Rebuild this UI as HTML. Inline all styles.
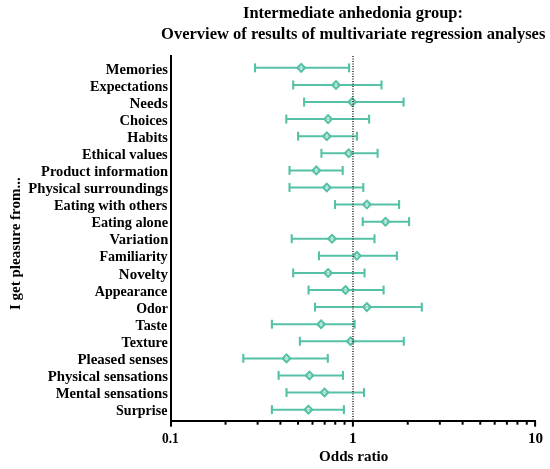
<!DOCTYPE html>
<html><head><meta charset="utf-8"><style>
html,body{margin:0;padding:0;background:#fff;}
body{width:550px;height:469px;position:relative;overflow:hidden;font-family:"Liberation Serif",serif;font-weight:bold;color:#000;}
.t{position:absolute;white-space:nowrap;line-height:20px;}
.t,.title,.lab{filter:grayscale(1);}
.title{position:absolute;left:0;width:706px;text-align:center;font-size:16px;line-height:20px;white-space:nowrap;}
.lab{position:absolute;right:382.2px;font-size:14px;line-height:20px;height:20px;white-space:nowrap;transform:scaleX(1.035);transform-origin:right center;}
svg{position:absolute;left:0;top:0;}
</style></head><body>
<div class="title" style="top:2.5px"><span style="display:inline-block;transform:scaleX(1.028)">Intermediate anhedonia group:</span></div>
<div class="title" style="top:24.3px"><span style="display:inline-block;transform:scaleX(1.032)">Overview of results of multivariate regression analyses</span></div>
<div class="lab" style="top:59.50px;transform:scaleX(1.037)">Memories</div><div class="lab" style="top:76.59px;transform:scaleX(1.0114)">Expectations</div><div class="lab" style="top:93.68px;transform:scaleX(1.0717)">Needs</div><div class="lab" style="top:110.77px;transform:scaleX(1.0332)">Choices</div><div class="lab" style="top:127.86px;transform:scaleX(1.0173)">Habits</div><div class="lab" style="top:144.95px;transform:scaleX(1.0253)">Ethical values</div><div class="lab" style="top:162.04px;transform:scaleX(1.0318)">Product information</div><div class="lab" style="top:179.13px;transform:scaleX(1.0509)">Physical surroundings</div><div class="lab" style="top:196.22px;transform:scaleX(1.0278)">Eating with others</div><div class="lab" style="top:213.31px;transform:scaleX(1.0215)">Eating alone</div><div class="lab" style="top:230.40px;transform:scaleX(1.0422)">Variation</div><div class="lab" style="top:247.49px;transform:scaleX(1.0083)">Familiarity</div><div class="lab" style="top:264.58px;transform:scaleX(1.0685)">Novelty</div><div class="lab" style="top:281.67px;transform:scaleX(1.0031)">Appearance</div><div class="lab" style="top:298.76px;transform:scaleX(0.9914)">Odor</div><div class="lab" style="top:315.85px;transform:scaleX(1.016)">Taste</div><div class="lab" style="top:332.94px;transform:scaleX(1.0086)">Texture</div><div class="lab" style="top:350.03px;transform:scaleX(1.0649)">Pleased senses</div><div class="lab" style="top:367.12px;transform:scaleX(1.0555)">Physical sensations</div><div class="lab" style="top:384.21px;transform:scaleX(1.0502)">Mental sensations</div><div class="lab" style="top:401.30px;transform:scaleX(0.9981)">Surprise</div>
<div class="t" style="left:6px;top:309.6px;font-size:14px;transform-origin:0 0;transform:rotate(-90deg) scaleX(1.071);">I get pleasure from...</div>
<div class="t" style="left:161.8px;top:429px;font-size:14px;transform:scaleX(0.96);transform-origin:0 0;">0.1</div>
<div class="t" style="left:349px;top:429px;font-size:14px;transform:scaleX(1.1);transform-origin:0 0;">1</div>
<div class="t" style="left:527.8px;top:429px;font-size:14px;transform:scaleX(1.08);transform-origin:0 0;">10</div>
<div class="t" style="left:318.8px;top:446.5px;font-size:14px;transform:scaleX(1.08);transform-origin:0 0;">Odds ratio</div>
<svg width="550" height="469" viewBox="0 0 550 469">
<line x1="255" y1="67.85" x2="349.1" y2="67.85" stroke="#55C1A6" stroke-width="2"/><line x1="255" y1="63.40" x2="255" y2="72.30" stroke="#55C1A6" stroke-width="2.1"/><line x1="349.1" y1="63.40" x2="349.1" y2="72.30" stroke="#55C1A6" stroke-width="2.1"/><path d="M297.40 67.85L301.20 64.05L305.00 67.85L301.20 71.65Z" fill="#ffffff" fill-opacity="0.45" stroke="#55C1A6" stroke-width="2.1"/><line x1="293.2" y1="84.94" x2="381.5" y2="84.94" stroke="#55C1A6" stroke-width="2"/><line x1="293.2" y1="80.49" x2="293.2" y2="89.39" stroke="#55C1A6" stroke-width="2.1"/><line x1="381.5" y1="80.49" x2="381.5" y2="89.39" stroke="#55C1A6" stroke-width="2.1"/><path d="M332.20 84.94L336.00 81.14L339.80 84.94L336.00 88.74Z" fill="#ffffff" fill-opacity="0.45" stroke="#55C1A6" stroke-width="2.1"/><line x1="304.1" y1="102.03" x2="403.6" y2="102.03" stroke="#55C1A6" stroke-width="2"/><line x1="304.1" y1="97.58" x2="304.1" y2="106.48" stroke="#55C1A6" stroke-width="2.1"/><line x1="403.6" y1="97.58" x2="403.6" y2="106.48" stroke="#55C1A6" stroke-width="2.1"/><path d="M348.40 102.03L352.20 98.23L356.00 102.03L352.20 105.83Z" fill="#ffffff" fill-opacity="0.45" stroke="#55C1A6" stroke-width="2.1"/><line x1="286.3" y1="119.12" x2="369.1" y2="119.12" stroke="#55C1A6" stroke-width="2"/><line x1="286.3" y1="114.67" x2="286.3" y2="123.57" stroke="#55C1A6" stroke-width="2.1"/><line x1="369.1" y1="114.67" x2="369.1" y2="123.57" stroke="#55C1A6" stroke-width="2.1"/><path d="M324.30 119.12L328.10 115.32L331.90 119.12L328.10 122.92Z" fill="#ffffff" fill-opacity="0.45" stroke="#55C1A6" stroke-width="2.1"/><line x1="298.1" y1="136.21" x2="356.9" y2="136.21" stroke="#55C1A6" stroke-width="2"/><line x1="298.1" y1="131.76" x2="298.1" y2="140.66" stroke="#55C1A6" stroke-width="2.1"/><line x1="356.9" y1="131.76" x2="356.9" y2="140.66" stroke="#55C1A6" stroke-width="2.1"/><path d="M323.00 136.21L326.80 132.41L330.60 136.21L326.80 140.01Z" fill="#ffffff" fill-opacity="0.45" stroke="#55C1A6" stroke-width="2.1"/><line x1="321.4" y1="153.30" x2="377.6" y2="153.30" stroke="#55C1A6" stroke-width="2"/><line x1="321.4" y1="148.85" x2="321.4" y2="157.75" stroke="#55C1A6" stroke-width="2.1"/><line x1="377.6" y1="148.85" x2="377.6" y2="157.75" stroke="#55C1A6" stroke-width="2.1"/><path d="M344.90 153.30L348.70 149.50L352.50 153.30L348.70 157.10Z" fill="#ffffff" fill-opacity="0.45" stroke="#55C1A6" stroke-width="2.1"/><line x1="289.5" y1="170.39" x2="342.7" y2="170.39" stroke="#55C1A6" stroke-width="2"/><line x1="289.5" y1="165.94" x2="289.5" y2="174.84" stroke="#55C1A6" stroke-width="2.1"/><line x1="342.7" y1="165.94" x2="342.7" y2="174.84" stroke="#55C1A6" stroke-width="2.1"/><path d="M312.50 170.39L316.30 166.59L320.10 170.39L316.30 174.19Z" fill="#ffffff" fill-opacity="0.45" stroke="#55C1A6" stroke-width="2.1"/><line x1="289.5" y1="187.48" x2="363.3" y2="187.48" stroke="#55C1A6" stroke-width="2"/><line x1="289.5" y1="183.03" x2="289.5" y2="191.93" stroke="#55C1A6" stroke-width="2.1"/><line x1="363.3" y1="183.03" x2="363.3" y2="191.93" stroke="#55C1A6" stroke-width="2.1"/><path d="M323.00 187.48L326.80 183.68L330.60 187.48L326.80 191.28Z" fill="#ffffff" fill-opacity="0.45" stroke="#55C1A6" stroke-width="2.1"/><line x1="335" y1="204.57" x2="399.1" y2="204.57" stroke="#55C1A6" stroke-width="2"/><line x1="335" y1="200.12" x2="335" y2="209.02" stroke="#55C1A6" stroke-width="2.1"/><line x1="399.1" y1="200.12" x2="399.1" y2="209.02" stroke="#55C1A6" stroke-width="2.1"/><path d="M363.10 204.57L366.90 200.77L370.70 204.57L366.90 208.37Z" fill="#ffffff" fill-opacity="0.45" stroke="#55C1A6" stroke-width="2.1"/><line x1="362.7" y1="221.66" x2="409.1" y2="221.66" stroke="#55C1A6" stroke-width="2"/><line x1="362.7" y1="217.21" x2="362.7" y2="226.11" stroke="#55C1A6" stroke-width="2.1"/><line x1="409.1" y1="217.21" x2="409.1" y2="226.11" stroke="#55C1A6" stroke-width="2.1"/><path d="M381.70 221.66L385.50 217.86L389.30 221.66L385.50 225.46Z" fill="#ffffff" fill-opacity="0.45" stroke="#55C1A6" stroke-width="2.1"/><line x1="291.7" y1="238.75" x2="374.5" y2="238.75" stroke="#55C1A6" stroke-width="2"/><line x1="291.7" y1="234.30" x2="291.7" y2="243.20" stroke="#55C1A6" stroke-width="2.1"/><line x1="374.5" y1="234.30" x2="374.5" y2="243.20" stroke="#55C1A6" stroke-width="2.1"/><path d="M328.20 238.75L332.00 234.95L335.80 238.75L332.00 242.55Z" fill="#ffffff" fill-opacity="0.45" stroke="#55C1A6" stroke-width="2.1"/><line x1="319" y1="255.84" x2="396.9" y2="255.84" stroke="#55C1A6" stroke-width="2"/><line x1="319" y1="251.39" x2="319" y2="260.29" stroke="#55C1A6" stroke-width="2.1"/><line x1="396.9" y1="251.39" x2="396.9" y2="260.29" stroke="#55C1A6" stroke-width="2.1"/><path d="M353.10 255.84L356.90 252.04L360.70 255.84L356.90 259.64Z" fill="#ffffff" fill-opacity="0.45" stroke="#55C1A6" stroke-width="2.1"/><line x1="293.2" y1="272.93" x2="364.5" y2="272.93" stroke="#55C1A6" stroke-width="2"/><line x1="293.2" y1="268.48" x2="293.2" y2="277.38" stroke="#55C1A6" stroke-width="2.1"/><line x1="364.5" y1="268.48" x2="364.5" y2="277.38" stroke="#55C1A6" stroke-width="2.1"/><path d="M324.30 272.93L328.10 269.13L331.90 272.93L328.10 276.73Z" fill="#ffffff" fill-opacity="0.45" stroke="#55C1A6" stroke-width="2.1"/><line x1="308.6" y1="290.02" x2="383.6" y2="290.02" stroke="#55C1A6" stroke-width="2"/><line x1="308.6" y1="285.57" x2="308.6" y2="294.47" stroke="#55C1A6" stroke-width="2.1"/><line x1="383.6" y1="285.57" x2="383.6" y2="294.47" stroke="#55C1A6" stroke-width="2.1"/><path d="M341.70 290.02L345.50 286.22L349.30 290.02L345.50 293.82Z" fill="#ffffff" fill-opacity="0.45" stroke="#55C1A6" stroke-width="2.1"/><line x1="315" y1="307.11" x2="421.8" y2="307.11" stroke="#55C1A6" stroke-width="2"/><line x1="315" y1="302.66" x2="315" y2="311.56" stroke="#55C1A6" stroke-width="2.1"/><line x1="421.8" y1="302.66" x2="421.8" y2="311.56" stroke="#55C1A6" stroke-width="2.1"/><path d="M363.10 307.11L366.90 303.31L370.70 307.11L366.90 310.91Z" fill="#ffffff" fill-opacity="0.45" stroke="#55C1A6" stroke-width="2.1"/><line x1="271.9" y1="324.20" x2="354.6" y2="324.20" stroke="#55C1A6" stroke-width="2"/><line x1="271.9" y1="319.75" x2="271.9" y2="328.65" stroke="#55C1A6" stroke-width="2.1"/><line x1="354.6" y1="319.75" x2="354.6" y2="328.65" stroke="#55C1A6" stroke-width="2.1"/><path d="M317.30 324.20L321.10 320.40L324.90 324.20L321.10 328.00Z" fill="#ffffff" fill-opacity="0.45" stroke="#55C1A6" stroke-width="2.1"/><line x1="299.9" y1="341.29" x2="403.8" y2="341.29" stroke="#55C1A6" stroke-width="2"/><line x1="299.9" y1="336.84" x2="299.9" y2="345.74" stroke="#55C1A6" stroke-width="2.1"/><line x1="403.8" y1="336.84" x2="403.8" y2="345.74" stroke="#55C1A6" stroke-width="2.1"/><path d="M346.80 341.29L350.60 337.49L354.40 341.29L350.60 345.09Z" fill="#ffffff" fill-opacity="0.45" stroke="#55C1A6" stroke-width="2.1"/><line x1="243.3" y1="358.38" x2="327.8" y2="358.38" stroke="#55C1A6" stroke-width="2"/><line x1="243.3" y1="353.93" x2="243.3" y2="362.83" stroke="#55C1A6" stroke-width="2.1"/><line x1="327.8" y1="353.93" x2="327.8" y2="362.83" stroke="#55C1A6" stroke-width="2.1"/><path d="M282.70 358.38L286.50 354.58L290.30 358.38L286.50 362.18Z" fill="#ffffff" fill-opacity="0.45" stroke="#55C1A6" stroke-width="2.1"/><line x1="278.6" y1="375.47" x2="343" y2="375.47" stroke="#55C1A6" stroke-width="2"/><line x1="278.6" y1="371.02" x2="278.6" y2="379.92" stroke="#55C1A6" stroke-width="2.1"/><line x1="343" y1="371.02" x2="343" y2="379.92" stroke="#55C1A6" stroke-width="2.1"/><path d="M305.70 375.47L309.50 371.67L313.30 375.47L309.50 379.27Z" fill="#ffffff" fill-opacity="0.45" stroke="#55C1A6" stroke-width="2.1"/><line x1="286.5" y1="392.56" x2="364" y2="392.56" stroke="#55C1A6" stroke-width="2"/><line x1="286.5" y1="388.11" x2="286.5" y2="397.01" stroke="#55C1A6" stroke-width="2.1"/><line x1="364" y1="388.11" x2="364" y2="397.01" stroke="#55C1A6" stroke-width="2.1"/><path d="M320.70 392.56L324.50 388.76L328.30 392.56L324.50 396.36Z" fill="#ffffff" fill-opacity="0.45" stroke="#55C1A6" stroke-width="2.1"/><line x1="271.9" y1="409.65" x2="343.9" y2="409.65" stroke="#55C1A6" stroke-width="2"/><line x1="271.9" y1="405.20" x2="271.9" y2="414.10" stroke="#55C1A6" stroke-width="2.1"/><line x1="343.9" y1="405.20" x2="343.9" y2="414.10" stroke="#55C1A6" stroke-width="2.1"/><path d="M304.60 409.65L308.40 405.85L312.20 409.65L308.40 413.45Z" fill="#ffffff" fill-opacity="0.45" stroke="#55C1A6" stroke-width="2.1"/><line x1="353" y1="56" x2="353" y2="420" stroke="#333" stroke-width="1.6" stroke-dasharray="1 1.5"/><rect x="170" y="55" width="2" height="371.7" fill="#000"/><rect x="170" y="420" width="366" height="2" fill="#000"/><rect x="224.55" y="421" width="2" height="3.7" fill="#000"/><rect x="256.63" y="421" width="2" height="3.7" fill="#000"/><rect x="279.40" y="421" width="2" height="3.7" fill="#000"/><rect x="297.05" y="421" width="2" height="3.7" fill="#000"/><rect x="311.48" y="421" width="2" height="3.7" fill="#000"/><rect x="323.68" y="421" width="2" height="3.7" fill="#000"/><rect x="334.24" y="421" width="2" height="3.7" fill="#000"/><rect x="343.56" y="421" width="2" height="3.7" fill="#000"/><rect x="406.75" y="421" width="2" height="3.7" fill="#000"/><rect x="438.83" y="421" width="2" height="3.7" fill="#000"/><rect x="461.60" y="421" width="2" height="3.7" fill="#000"/><rect x="479.25" y="421" width="2" height="3.7" fill="#000"/><rect x="493.68" y="421" width="2" height="3.7" fill="#000"/><rect x="505.88" y="421" width="2" height="3.7" fill="#000"/><rect x="516.44" y="421" width="2" height="3.7" fill="#000"/><rect x="525.76" y="421" width="2" height="3.7" fill="#000"/><rect x="351.90" y="421" width="2" height="5.7" fill="#000"/><rect x="534.10" y="421" width="2" height="5.7" fill="#000"/>
</svg>
</body></html>
